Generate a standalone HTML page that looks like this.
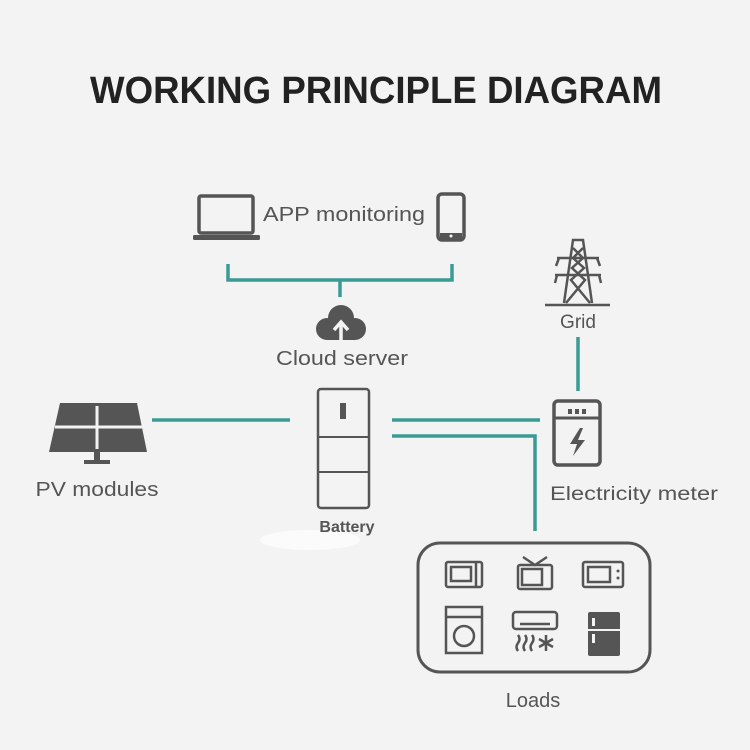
<!DOCTYPE html>
<html><head><style>
html,body{margin:0;padding:0;background:#f3f3f3;}
svg{display:block}
text{font-family:"Liberation Sans",Arial,sans-serif;fill:#555}
</style></head><body>
<svg width="750" height="750" viewBox="0 0 750 750" xmlns="http://www.w3.org/2000/svg">
<rect width="750" height="750" fill="#f3f3f3"/>
<text x="376" y="103" text-anchor="middle" font-size="38" font-weight="bold" style="fill:#222" textLength="572" lengthAdjust="spacingAndGlyphs">WORKING PRINCIPLE DIAGRAM</text>

<!-- laptop -->
<rect x="199" y="196" width="54" height="37" rx="2" fill="none" stroke="#555" stroke-width="3.5"/>
<rect x="193" y="235" width="67" height="5" rx="1.5" fill="#555"/>
<text x="344" y="221" text-anchor="middle" font-size="20" textLength="162" lengthAdjust="spacingAndGlyphs">APP monitoring</text>
<!-- phone -->
<rect x="438" y="194" width="26" height="46" rx="4" fill="none" stroke="#555" stroke-width="3.5"/>
<rect x="440" y="233" width="22" height="6" fill="#555"/>
<circle cx="451" cy="236" r="1.5" fill="#f3f3f3"/>

<g stroke="#3a9a94" stroke-width="3.5" fill="none">
<path d="M228 264 V280 H452 V264"/>
<path d="M340 280 V297"/>
<path d="M152 420 H290"/>
<path d="M392 420 H540"/>
<path d="M392 436 H535 V531"/>
<path d="M578 337 V391"/>
</g>

<!-- cloud -->
<g fill="#555">
<circle cx="341" cy="318" r="13"/>
<circle cx="327" cy="329" r="11"/>
<circle cx="355" cy="329" r="11"/>
<rect x="327" y="325" width="28" height="15"/>
</g>
<path d="M341 340 V324 M334 330 L341 322 L348 330" stroke="#f3f3f3" stroke-width="3.5" fill="none"/>
<text x="342" y="365" text-anchor="middle" font-size="20" textLength="132" lengthAdjust="spacingAndGlyphs">Cloud server</text>

<!-- battery -->
<rect x="318" y="389" width="51" height="119" rx="3" fill="none" stroke="#555" stroke-width="2.5"/>
<line x1="319" y1="437" x2="368" y2="437" stroke="#555" stroke-width="2"/>
<line x1="319" y1="472" x2="368" y2="472" stroke="#555" stroke-width="2"/>
<rect x="340" y="403" width="6" height="16" fill="#555"/>
<ellipse cx="310" cy="540" rx="50" ry="10" fill="#fbfbfb"/>
<text x="347" y="532" text-anchor="middle" font-size="16" font-weight="bold">Battery</text>

<!-- PV -->
<path d="M60 403 H137 L147 452 H49 Z" fill="#555"/>
<path d="M97 406 V449 M55 427 H142" stroke="#f3f3f3" stroke-width="3"/>
<rect x="94" y="452" width="6" height="10" fill="#555"/>
<rect x="84" y="460" width="26" height="4" fill="#555"/>
<text x="97" y="496" text-anchor="middle" font-size="20" textLength="123" lengthAdjust="spacingAndGlyphs">PV modules</text>

<!-- grid tower -->
<g stroke="#555" stroke-width="2.5" fill="none">
<path d="M545 305 H610"/>
<path d="M564 303 L573 240 H583 L592 303"/>
<path d="M557 258 H599 M555 275 H601 M559 258 L556 266 M597 258 L600 266 M557 275 L555 283 M599 275 L601 283"/>
<path d="M573 248 L583 258 L572 268 L585 280 L566 303 M583 248 L573 258 L584 268 L571 280 L590 303"/>
</g>
<text x="578" y="328" text-anchor="middle" font-size="19">Grid</text>

<!-- meter -->
<rect x="554" y="401" width="46" height="64" rx="4" fill="none" stroke="#555" stroke-width="3.5"/>
<line x1="555" y1="418" x2="599" y2="418" stroke="#555" stroke-width="3"/>
<rect x="568" y="409" width="4" height="5" fill="#555"/><rect x="575" y="409" width="4" height="5" fill="#555"/><rect x="582" y="409" width="4" height="5" fill="#555"/>
<path d="M580 428 L570 444 H577 L573 456 L585 440 H578 L583 428 Z" fill="#555"/>
<text x="634" y="500" text-anchor="middle" font-size="19" textLength="168" lengthAdjust="spacingAndGlyphs">Electricity meter</text>

<!-- loads -->
<rect x="418" y="543" width="232" height="129" rx="22" fill="none" stroke="#555" stroke-width="3"/>
<g stroke="#555" stroke-width="2.5" fill="none">
<rect x="446" y="562" width="36" height="25" rx="2"/><rect x="451" y="567" width="20" height="14"/><line x1="476" y1="563" x2="476" y2="586"/>
<rect x="518" y="565" width="34" height="24" rx="2"/><rect x="522" y="569" width="20" height="16"/><path d="M523 557 L535 565 L547 557"/>
<rect x="583" y="562" width="40" height="25" rx="2"/><rect x="588" y="567" width="22" height="15"/>
<rect x="446" y="607" width="36" height="46"/><line x1="446" y1="617" x2="482" y2="617"/><circle cx="464" cy="636" r="10"/>
<rect x="513" y="612" width="44" height="17" rx="3"/><line x1="520" y1="624" x2="550" y2="624"/>
<path d="M518 635 q3 4 0 8 q-3 4 0 8 M525 635 q3 4 0 8 q-3 4 0 8 M532 635 q3 4 0 8 q-3 4 0 8"/>
<path d="M546 635 V651 M539 639 L553 647 M553 639 L539 647"/>
</g>
<circle cx="618" cy="571" r="1.5" fill="#555"/><circle cx="618" cy="578" r="1.5" fill="#555"/>
<rect x="588" y="612" width="32" height="44" rx="2" fill="#555"/>
<line x1="588" y1="630" x2="620" y2="630" stroke="#f3f3f3" stroke-width="2"/>
<rect x="592" y="618" width="3" height="8" fill="#f3f3f3"/><rect x="592" y="634" width="3" height="9" fill="#f3f3f3"/>
<text x="533" y="707" text-anchor="middle" font-size="20">Loads</text>
</svg>
</body></html>
